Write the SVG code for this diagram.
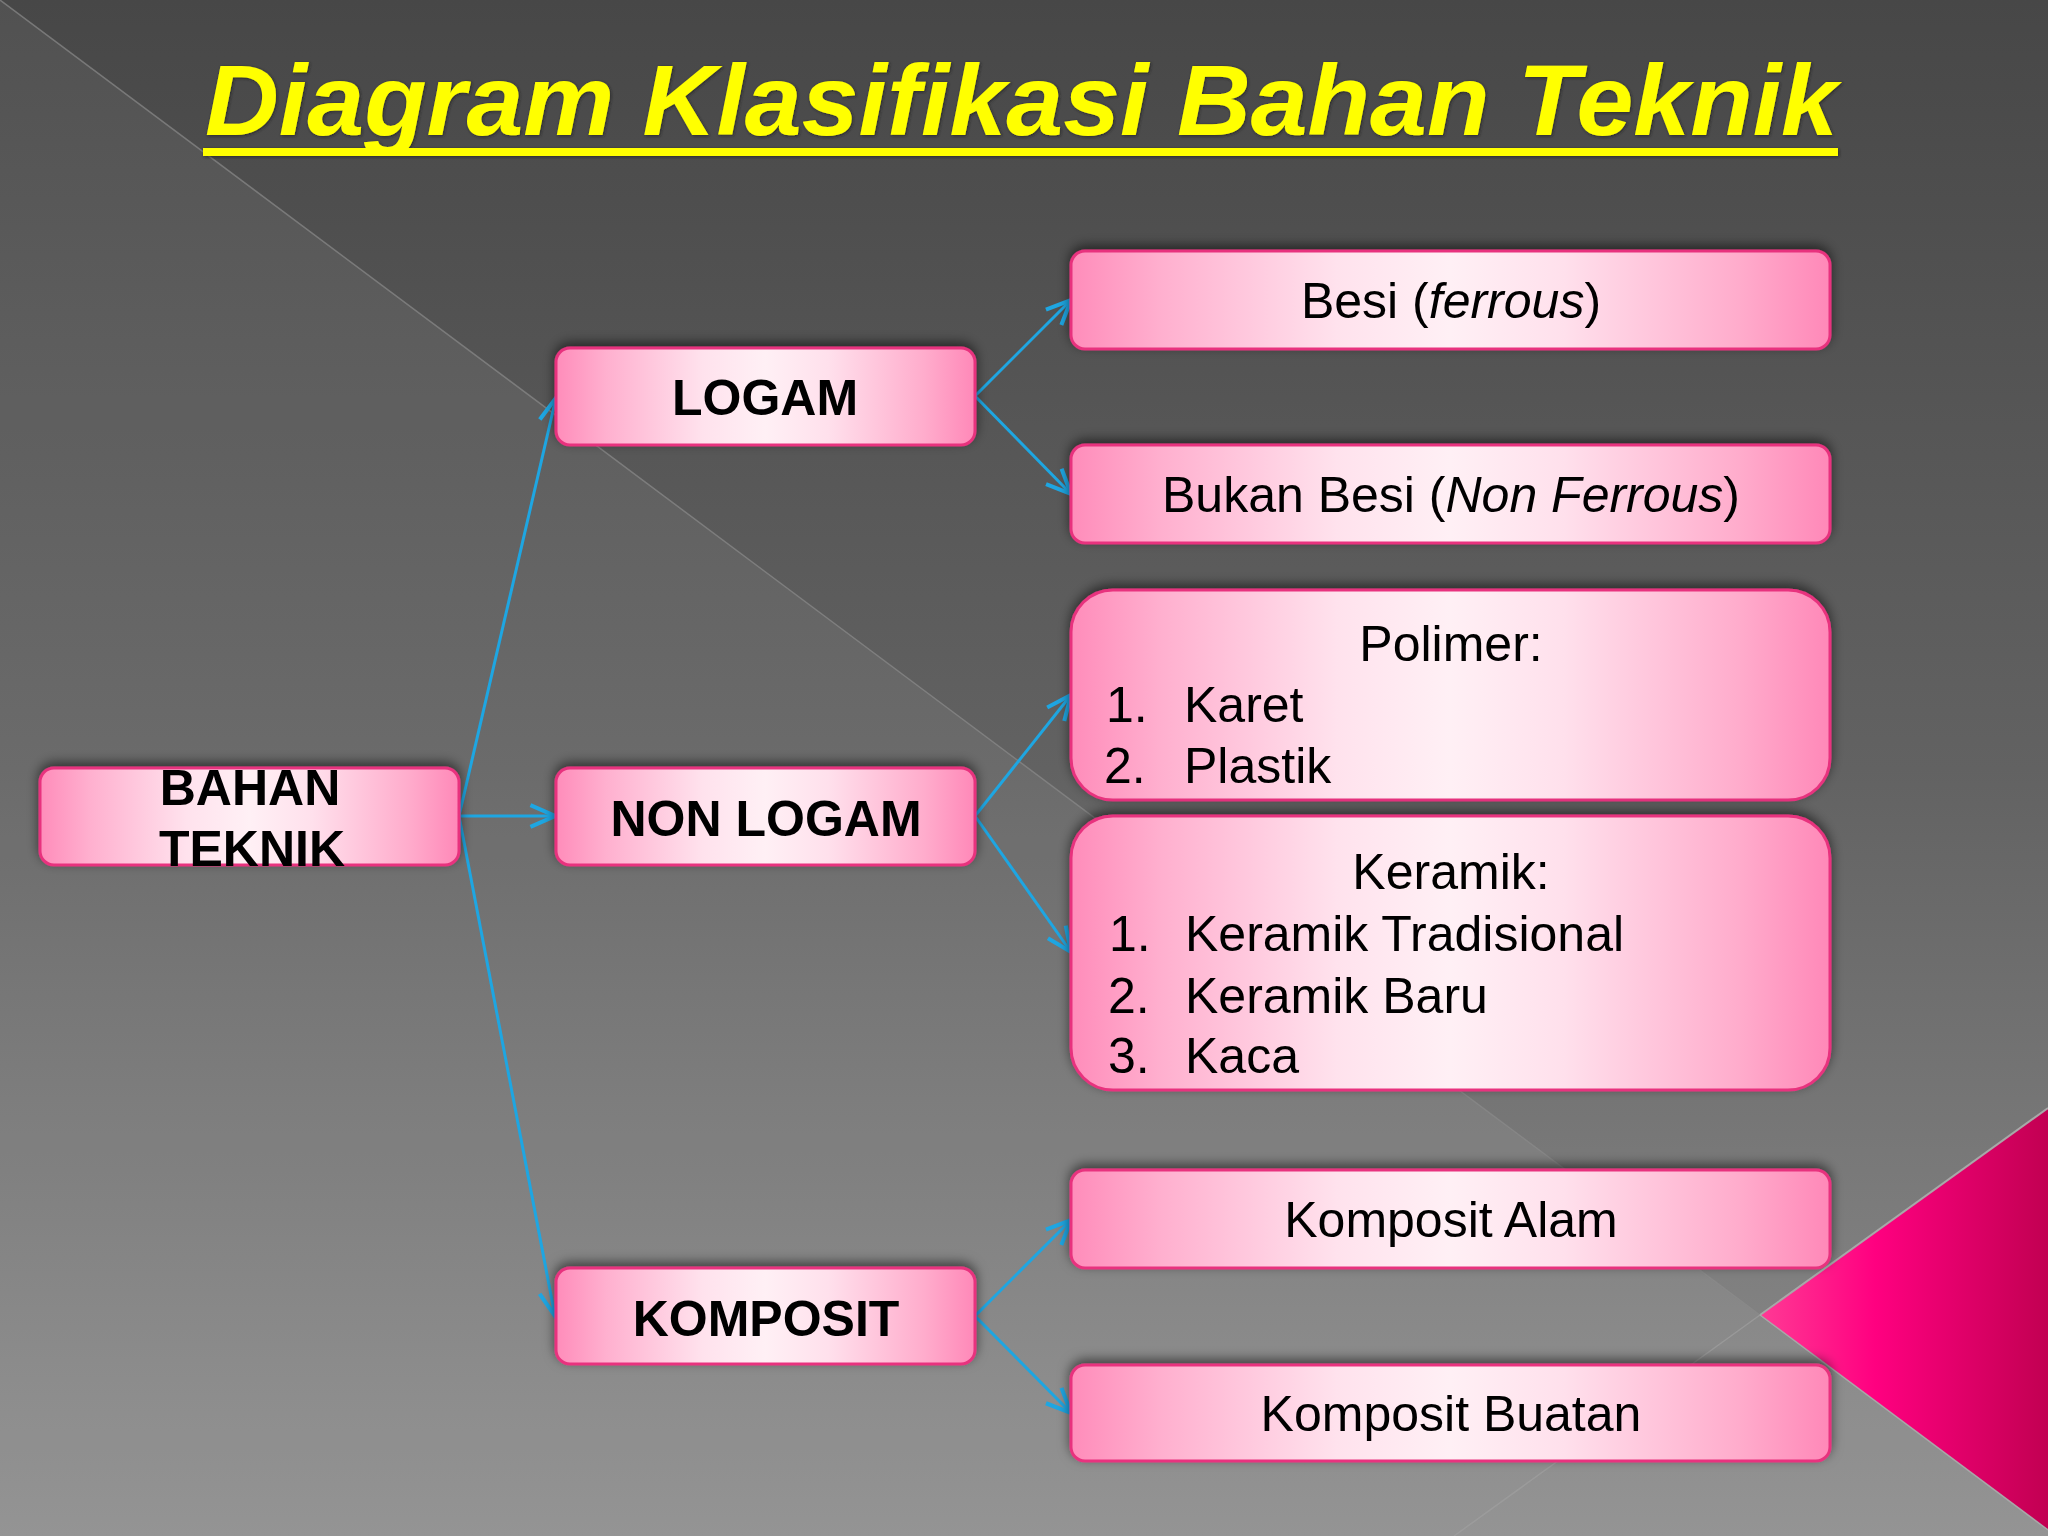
<svg xmlns="http://www.w3.org/2000/svg" width="2048" height="1536" viewBox="0 0 2048 1536">
<defs>
<linearGradient id="bg" x1="0" y1="0" x2="0" y2="1">
<stop offset="0" stop-color="#474747"/>
<stop offset="0.5" stop-color="#626262"/>
<stop offset="1" stop-color="#8e8e8e"/>
</linearGradient>
<linearGradient id="boxfill" x1="0" y1="0" x2="1" y2="0">
<stop offset="0" stop-color="#ff8cba"/>
<stop offset="0.12" stop-color="#ffb0cf"/>
<stop offset="0.35" stop-color="#ffe2ed"/>
<stop offset="0.5" stop-color="#fff0f5"/>
<stop offset="0.65" stop-color="#ffe0ec"/>
<stop offset="0.88" stop-color="#ffaccc"/>
<stop offset="1" stop-color="#ff88b8"/>
</linearGradient>
<linearGradient id="tri" x1="0" y1="0" x2="1" y2="0">
<stop offset="0" stop-color="#ff3a95"/>
<stop offset="0.4" stop-color="#ff0080"/>
<stop offset="1" stop-color="#c20052"/>
</linearGradient>
<filter id="shadow" x="-10%" y="-40%" width="120%" height="180%">
<feDropShadow dx="0" dy="-4" stdDeviation="6" flood-color="#000" flood-opacity="0.55"/>
</filter>
<filter id="tshadow" x="-5%" y="-20%" width="110%" height="140%">
<feDropShadow dx="1" dy="1" stdDeviation="1.5" flood-color="#222" flood-opacity="0.8"/>
</filter>
<marker id="arrow" markerUnits="userSpaceOnUse" markerWidth="30" markerHeight="30" viewBox="-20 -10 22 20" refX="0" refY="0" orient="auto">
<path d="M-18,-8 L0,0 L-18,8" fill="none" stroke="#1ea6e2" stroke-width="3"/>
</marker>
</defs>
<style>
.box{fill:url(#boxfill);stroke:#e8327e;stroke-width:3;filter:url(#shadow)}
.bold{font-family:"Liberation Sans",Arial,sans-serif;font-weight:bold;font-size:50px;fill:#000;text-anchor:middle}
.reg{font-family:"Liberation Sans",Arial,sans-serif;font-size:50px;fill:#000}
.mid{text-anchor:middle}
.conn{fill:none;stroke:#1ea6e2;stroke-width:3;marker-end:url(#arrow)}
</style>

<!-- background -->
<rect x="0" y="0" width="2048" height="1536" fill="url(#bg)"/>
<polygon points="0,0 2048,1530 2048,1536 0,1536" fill="#ffffff" fill-opacity="0.06"/>
<line x1="0" y1="0" x2="1760" y2="1315" stroke="#8a8a8a" stroke-width="1.5" stroke-opacity="0.7"/>
<line x1="1760" y1="1315" x2="1454" y2="1536" stroke="#a0a0a0" stroke-width="1.5" stroke-opacity="0.7"/>
<polygon points="1760,1315 2048,1108 2048,1530" fill="url(#tri)"/>
<line x1="1760" y1="1315" x2="2048" y2="1108" stroke="#a8a8a8" stroke-width="2"/>
<line x1="1760" y1="1315" x2="2048" y2="1530" stroke="#a8a8a8" stroke-width="1.5"/>

<!-- title -->
<g id="title" filter="url(#tshadow)">
<text x="205" y="135" font-family="'Liberation Sans',Arial,sans-serif" font-weight="bold" font-style="italic" font-size="100" fill="#ffff00" textLength="1633" lengthAdjust="spacingAndGlyphs">Diagram Klasifikasi Bahan Teknik</text>
<rect x="203" y="148" width="1635" height="8" fill="#ffff00"/>
</g>

<!-- connectors -->
<g id="connectors">
<line class="conn" x1="459" y1="816" x2="556" y2="398"/>
<line class="conn" x1="459" y1="816" x2="555" y2="816"/>
<line class="conn" x1="459" y1="816" x2="555" y2="1316"/>
<line class="conn" x1="975" y1="396" x2="1071" y2="300"/>
<line class="conn" x1="975" y1="396" x2="1071" y2="494"/>
<line class="conn" x1="975" y1="816" x2="1071" y2="695"/>
<line class="conn" x1="975" y1="816" x2="1071" y2="952"/>
<line class="conn" x1="975" y1="1316" x2="1071" y2="1220"/>
<line class="conn" x1="975" y1="1316" x2="1071" y2="1413"/>
</g>

<!-- nodes -->
<g id="bahan-teknik">
<rect class="box" x="40" y="768" width="419" height="97" rx="14"/>
<text class="bold" x="250" y="805">BAHAN</text>
<text class="bold" x="252" y="866">TEKNIK</text>
</g>
<g id="logam">
<rect class="box" x="556" y="348" width="419" height="97" rx="14"/>
<text class="bold" x="765" y="415">LOGAM</text>
</g>
<g id="non-logam">
<rect class="box" x="556" y="768" width="419" height="97" rx="14"/>
<text class="bold" x="766" y="836">NON LOGAM</text>
</g>
<g id="komposit">
<rect class="box" x="556" y="1268" width="419" height="96" rx="14"/>
<text class="bold" x="766" y="1336">KOMPOSIT</text>
</g>
<g id="besi">
<rect class="box" x="1071" y="251" width="759" height="98" rx="14"/>
<text class="reg mid" x="1451" y="318">Besi (<tspan font-style="italic">ferrous</tspan>)</text>
</g>
<g id="bukan-besi">
<rect class="box" x="1071" y="445" width="759" height="98" rx="14"/>
<text class="reg mid" x="1451" y="512">Bukan Besi (<tspan font-style="italic">Non Ferrous</tspan>)</text>
</g>
<g id="polimer">
<rect class="box" x="1071" y="590" width="759" height="210" rx="42"/>
<text class="reg mid" x="1451" y="661">Polimer:</text>
<text class="reg" x="1106" y="722">1.</text>
<text class="reg" x="1184" y="722">Karet</text>
<text class="reg" x="1104" y="783">2.</text>
<text class="reg" x="1184" y="783">Plastik</text>
</g>
<g id="keramik">
<rect class="box" x="1071" y="816" width="759" height="274" rx="42"/>
<text class="reg mid" x="1451" y="889">Keramik:</text>
<text class="reg" x="1109" y="951">1.</text>
<text class="reg" x="1185" y="951">Keramik Tradisional</text>
<text class="reg" x="1108" y="1013">2.</text>
<text class="reg" x="1185" y="1013">Keramik Baru</text>
<text class="reg" x="1108" y="1073">3.</text>
<text class="reg" x="1185" y="1073">Kaca</text>
</g>
<g id="komposit-alam">
<rect class="box" x="1071" y="1170" width="759" height="98" rx="14"/>
<text class="reg mid" x="1451" y="1237">Komposit Alam</text>
</g>
<g id="komposit-buatan">
<rect class="box" x="1071" y="1365" width="759" height="96" rx="14"/>
<text class="reg mid" x="1451" y="1431">Komposit Buatan</text>
</g>
</svg>
